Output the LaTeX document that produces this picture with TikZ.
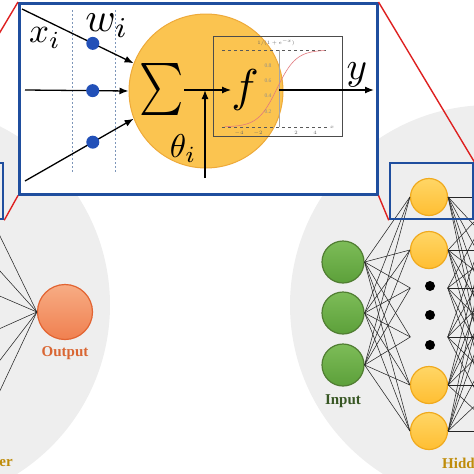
\documentclass[tikz,border=0pt]{standalone}
\usepackage{fontspec}
\usepackage{graphicx}
\setmainfont{Liberation Serif}
\usetikzlibrary{positioning,arrows.meta}
\definecolor{boxblue}{RGB}{31,78,158}
\definecolor{zoomred}{RGB}{222,32,32}
\definecolor{bggray}{RGB}{238,238,238}
\definecolor{sumfill}{RGB}{251,196,80}
\definecolor{sumdraw}{RGB}{238,170,58}
\definecolor{dotblue}{RGB}{34,80,184}
\definecolor{guideblue}{RGB}{125,150,185}
\definecolor{sigred}{RGB}{226,120,125}
\definecolor{ingreen}{RGB}{55,86,35}
\definecolor{outorange}{RGB}{217,102,51}
\definecolor{hidgold}{RGB}{191,140,10}
\tikzset{
  neuron/.style={circle, draw, line width=1.2pt, inner sep=0pt},
  inneuron/.style={neuron, minimum size=42pt, draw={rgb,255:red,80;green,125;blue,50},
    top color={rgb,255:red,125;green,188;blue,88}, bottom color={rgb,255:red,92;green,160;blue,58}},
  hidneuron/.style={neuron, minimum size=37pt, draw={rgb,255:red,240;green,170;blue,30},
    top color={rgb,255:red,255;green,214;blue,102}, bottom color={rgb,255:red,255;green,190;blue,50}},
  outneuron/.style={neuron, minimum size=55pt, draw={rgb,255:red,226;green,100;blue,50},
    top color={rgb,255:red,247;green,172;blue,132}, bottom color={rgb,255:red,240;green,128;blue,80}},
  ghost/.style={circle, minimum size=37pt, inner sep=0pt},
  dot/.style={circle, fill=black, minimum size=10pt, inner sep=0pt},
  edge/.style={draw=black!85, line width=0.55pt},
  layerlabel/.style={font=\fontsize{15}{18}\selectfont\bfseries, inner sep=0pt},
  zoombox/.style={draw=boxblue, line width=2.5pt, inner sep=0pt},
  zoomline/.style={draw=zoomred, line width=1.4pt},
  weight/.style={circle, fill=dotblue, minimum size=13pt, inner sep=0pt},
  guide/.style={draw=guideblue, line width=0.8pt, dash pattern=on 2pt off 2pt},
  signal/.style={line width=1.3pt, -{Latex[length=9pt,width=7pt]}},
  ticklab/.style={font=\fontsize{5.5}{6}\selectfont, inner sep=0pt, text=black!60},
  mathlab/.style={inner sep=0pt}
}
\begin{document}
\begin{tikzpicture}[x=1pt, y=-1pt]
\useasboundingbox (0,0) rectangle (474,474);
\clip (0,0) rectangle (474,474);
% background discs
\fill[bggray] (-90,305) circle[radius=200];
\fill[bggray] (490,305) circle[radius=200];

% left network, output side
\node[outneuron] (out) at (65,312) {};
\node[layerlabel, text=outorange, below of=out, node distance=41pt] (outlab) {Output};
\foreach \k/\y in {1/197,2/250,3/288,4/337,5/385,6/431}
  \coordinate (p\k) at (-19,\y);
\foreach \k in {1,...,6}
  \draw[edge] (p\k) -- (out.west);
\node[layerlabel, text=hidgold, anchor=base east] (lhid) at (13,466) {Hidden Layer};

% right network, input side
\foreach \k/\y in {1/262,2/313,3/365}
  \node[inneuron] (i\k) at (343,\y) {};
\node[layerlabel, text=ingreen, below of=i3, node distance=36pt] (inlab) {Input};
\foreach \k/\y in {1/197,2/250,5/385,6/431}
  \node[hidneuron] (h\k) at (429,\y) {};
\foreach \k/\y in {3/288,4/337}
  \node[ghost] (h\k) at (429,\y) {};
\foreach \k/\y in {1/286,2/315,3/345}
  \node[dot] (dot\k) at (430,\y) {};
\foreach \k/\y in {1/197,2/250,3/288,4/337,5/385,6/431}
  \coordinate (n\k) at (497,\y);
\foreach \a in {1,2,3}
  \foreach \b in {1,...,6}
    \draw[edge] (i\a.east) -- (h\b.west);
\foreach \a in {1,...,6}
  \foreach \b in {1,...,6}
    \draw[edge] (h\a.east) -- (n\b);
\node[layerlabel, text=hidgold, anchor=base west] (rhid) at (442,468) {Hidden Layer};

% zoom boxes
\node[zoombox, minimum width=79pt, minimum height=56pt] (lbox) at (-36.5,191) {};
\node[zoombox, minimum width=83pt, minimum height=56pt] (rbox) at (431.5,191) {};
\node[zoombox, fill=white, minimum width=358pt, minimum height=191pt, anchor=north west] (mag) at (18,2) {};
\draw[zoomline] (mag.north west) -- (lbox.north west);
\draw[zoomline] (mag.south west) -- (lbox.south east);
\draw[zoomline] (mag.north east) -- (rbox.north east);
\draw[zoomline] (mag.south east) -- (rbox.south west);

% magnified neuron
\node[circle, fill=sumfill, draw=sumdraw, line width=1pt, minimum size=154pt, inner sep=0pt] (sum) at (206,91) {};
\node[draw=black!70, line width=.6pt, minimum width=129pt, minimum height=100pt, inner sep=0pt] (plot) at (277.5,86) {};
\draw[dashed, black!65, line width=.5pt] (222,50) -- (326,50);
\draw[dashed, black!65, line width=.5pt] (222,127) -- (327,127);
\draw[black!35, line width=.4pt] (279,50) -- (279,127);
\draw[sigred, line width=.6pt, domain=-5.5:5, samples=60, smooth] plot ({277+9.5*\x}, {127-77/(1+exp(-\x))});
\foreach \k/\v/\xx in {1/-4/239,2/-2/258,3/2/296,4/4/315}
  \node[ticklab] (xt\k) at (\xx,133) {$\v$};
\foreach \k/\v/\yy in {1/0.8/65.4,2/0.6/80.8,3/0.4/96.2,4/0.2/111.6}
  \node[ticklab, text=black!45] (yt\k) at (268,\yy) {\v};
\node[ticklab] (xname) at (332,127) {$x$};
\node[ticklab] (ptitle) at (276,42) {$1/(1+e^{-x})$};

% inputs and weights
\coordinate (xs1) at (22,9);
\coordinate (xs2) at (25,90);
\coordinate (xs3) at (25,181);
\draw[guide] (72,10) -- (72,173);
\draw[guide] (115,10) -- (115,173);
\draw[signal] (xs1) -- node[weight, pos=.634] (w1) {} (sum.159);
\draw[signal] (xs2) -- node[weight, pos=.654] (w2) {} (sum.west);
\draw[signal] (xs3) -- node[weight, pos=.624] (w3) {} (sum.201);
\node[mathlab] (xlab) at (45,38) {\scalebox{3.5}{$x_i$}};
\node[mathlab] (wlab) at (107,26) {\scalebox{4.1}{$w_i$}};
\node[mathlab] (sigma) at (162,89) {\scalebox{4.2}[5.2]{$\sum$}};
\node[mathlab] (f) at (245,90) {\scalebox{4.6}{$f$}};
\coordinate (thbase) at (205,178);
\coordinate (bias) at (thbase |- f.west);
\draw[signal] (sigma.east |- f.west) -- (f.west);
\node[mathlab] (theta) at (183,149) {\scalebox{3.3}{$\theta_i$}};
\draw[signal] (thbase) -- (bias);
\coordinate (yend) at (374,90);
\draw[signal] ([xshift=20pt]f.east) -- (yend);
\node[mathlab] (ylab) at (357,75) {\scalebox{3.9}{$y$}};
\end{tikzpicture}
\end{document}
